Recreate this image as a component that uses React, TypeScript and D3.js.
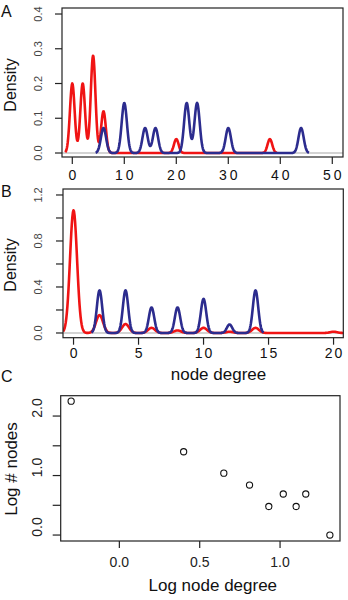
import React from "react";
import * as d3 from "d3";

// ---------- data ----------
// Panel A: node degrees (values at which nodes occur) and counts
const A_RED_DEG = [0, 2, 4, 6, 20, 38];
const A_RED_CNT = [5, 5, 7, 3, 1, 1];
const A_RED_BW = 0.453;
const A_BLUE_DEG = [6, 10, 14, 16, 22, 24, 30, 44];
const A_BLUE_CNT = [1, 2, 1, 1, 2, 2, 1, 1];
const A_BLUE_BW = 0.504;
// Panel B
const B_RED_DEG = [0, 2, 4, 6, 8, 10, 12, 14, 20];
const B_RED_CNT = [96, 14, 7, 4, 2, 4, 1, 4, 1];
const B_RED_BW = 0.27;
const B_BLUE_DEG = [2, 4, 6, 8, 10, 12, 14];
const B_BLUE_CNT = [5, 5, 3, 3, 4, 1, 5];
const B_BLUE_BW = 0.207;
// Panel C
const C_LOG_DEG = [-0.3, 0.4, 0.65, 0.81, 0.93, 1.02, 1.1, 1.16, 1.31];
const C_LOG_N = [2.25, 1.4, 1.04, 0.84, 0.48, 0.69, 0.48, 0.69, 0.0];

// ticks
const A_X_TICKS = [0, 10, 20, 30, 40, 50];
const A_Y_TICKS = [0, 0.1, 0.2, 0.3, 0.4];
const A_Y_LABELS = [0, 0.1, 0.2, 0.3, 0.4];
const B_X_TICKS = [0, 5, 10, 15, 20];
const B_Y_TICKS = [0, 0.2, 0.4, 0.6, 0.8, 1.0, 1.2];
const B_Y_LABELS = [0, 0.4, 0.8, 1.2];
const C_X_TICKS = [0, 0.5, 1.0];
const C_Y_TICKS = [0, 0.5, 1.0, 1.5, 2.0];
const C_Y_LABELS = [0, 1.0, 2.0];

const RED = "#f01414";
const BLUE = "#2c2c8e";
const SANS = "'Liberation Sans', Arial, Helvetica, sans-serif";
const NARROW = "'Liberation Sans Narrow', 'Arial Narrow', 'Liberation Sans', sans-serif";

function kde(deg: number[], cnt: number[], bw: number): [number, number][] {
  const n = d3.sum(cnt);
  const lo = (d3.min(deg) as number) - 3 * bw;
  const hi = (d3.max(deg) as number) + 3 * bw;
  const norm = n * bw * Math.sqrt(2 * Math.PI);
  return d3.range(512).map((i) => {
    const x = lo + ((hi - lo) * i) / 511;
    const y =
      d3.sum(deg, (d, j) => cnt[j] * Math.exp(-0.5 * ((x - d) / bw) ** 2)) / norm;
    return [x, y] as [number, number];
  });
}

type Box = { x0: number; x1: number; y0: number; y1: number };

function DensityPanel(props: {
  id: string;
  box: Box;
  xDomain: [number, number];
  yDomain: [number, number];
  xTicks: number[];
  yTicks: number[];
  yLabels: number[];
  yFmt: (v: number) => string;
  series: { data: [number, number][]; color: string }[];
  letterSpacing: number;
  labelBaseline: number;
}) {
  const { id, box, xDomain, yDomain, xTicks, yTicks, yLabels, yFmt, series } = props;
  const x = d3.scaleLinear().domain(xDomain).range([box.x0, box.x1]);
  const y = d3.scaleLinear().domain(yDomain).range([box.y1, box.y0]);
  const line = d3
    .line<[number, number]>()
    .x((d) => x(d[0]))
    .y((d) => y(d[1]));
  return (
    <g>
      <defs>
        <clipPath id={id}>
          <rect x={box.x0} y={box.y0} width={box.x1 - box.x0} height={box.y1 - box.y0} />
        </clipPath>
      </defs>
      <line x1={box.x0} x2={box.x1} y1={y(0)} y2={y(0)} stroke="#c4c4c4" strokeWidth={1.6} />
      <g clipPath={`url(#${id})`}>
        {series.map((s, i) => (
          <path key={i} d={line(s.data) || ""} fill="none" stroke={s.color} strokeWidth={2.6} strokeLinejoin="round" />
        ))}
      </g>
      <rect x={box.x0} y={box.y0} width={box.x1 - box.x0} height={box.y1 - box.y0} fill="none" stroke="#222" strokeWidth={1.2} />
      {xTicks.map((t) => (
        <g key={"x" + t}>
          <line x1={x(t)} x2={x(t)} y1={box.y1} y2={box.y1 + 7} stroke="#222" strokeWidth={1.2} />
          <text
            x={x(t) + props.letterSpacing / 2}
            y={props.labelBaseline}
            textAnchor="middle"
            fontFamily={SANS}
            fontSize={14}
            letterSpacing={props.letterSpacing}
            fill="#111"
          >
            {String(t)}
          </text>
        </g>
      ))}
      {yTicks.map((t) => (
        <line key={"y" + t} x1={box.x0 - 7} x2={box.x0} y1={y(t)} y2={y(t)} stroke="#222" strokeWidth={1.2} />
      ))}
      {yLabels.map((t) => (
        <text
          key={"yl" + t}
          transform={`translate(42,${y(t)}) rotate(-90)`}
          textAnchor="middle"
          fontFamily={SANS}
          fontSize={11}
          fill="#444"
        >
          {yFmt(t)}
        </text>
      ))}
    </g>
  );
}

export default function App() {
  const aRed = kde(A_RED_DEG, A_RED_CNT, A_RED_BW);
  const aBlue = kde(A_BLUE_DEG, A_BLUE_CNT, A_BLUE_BW);
  const bRed = kde(B_RED_DEG, B_RED_CNT, B_RED_BW);
  const bBlue = kde(B_BLUE_DEG, B_BLUE_CNT, B_BLUE_BW);

  const cBox: Box = { x0: 60.7, x1: 340, y0: 395.7, y1: 541 };
  const cx = d3.scaleLinear().domain([-0.365, 1.373]).range([cBox.x0, cBox.x1]);
  const cy = d3.scaleLinear().domain([-0.1, 2.342]).range([cBox.y1, cBox.y0]);

  return (
    <svg
      width={348}
      height={600}
      style={{ position: "absolute", left: 0, top: 0, background: "#fff" }}
      fontFamily={SANS}
    >
      <rect x={0} y={0} width={348} height={600} fill="#fff" />
      {/* Panel A */}
      <text x={1} y={17} fontSize={16} fill="#111">A</text>
      <DensityPanel
        id="clipA"
        box={{ x0: 62, x1: 343, y0: 8, y1: 157 }}
        xDomain={[-1.98, 52.06]}
        yDomain={[-0.0115, 0.4173]}
        xTicks={A_X_TICKS}
        yTicks={A_Y_TICKS}
        yLabels={A_Y_LABELS}
        yFmt={(v) => v.toFixed(1)}
        series={[
          { data: aRed, color: RED },
          { data: aBlue, color: BLUE },
        ]}
        letterSpacing={3}
        labelBaseline={180}
      />
      <text transform="translate(16,85) rotate(-90)" textAnchor="middle" fontSize={16} fill="#111">
        Density
      </text>

      {/* Panel B */}
      <text x={1} y={197} fontSize={16} fill="#111">B</text>
      <DensityPanel
        id="clipB"
        box={{ x0: 63, x1: 343.3, y0: 189, y1: 337.7 }}
        xDomain={[-0.81, 20.75]}
        yDomain={[-0.041, 1.252]}
        xTicks={B_X_TICKS}
        yTicks={B_Y_TICKS}
        yLabels={B_Y_LABELS}
        yFmt={(v) => v.toFixed(1)}
        series={[
          { data: bRed, color: RED },
          { data: bBlue, color: BLUE },
        ]}
        letterSpacing={2}
        labelBaseline={358}
      />
      <text transform="translate(16,265) rotate(-90)" textAnchor="middle" fontSize={16} fill="#111">
        Density
      </text>
      <text x={218.5} y={380} textAnchor="middle" fontSize={17} fill="#111">
        node degree
      </text>

      {/* Panel C */}
      <text x={1} y={382} fontSize={16} fill="#111">C</text>
      <rect x={cBox.x0} y={cBox.y0} width={cBox.x1 - cBox.x0} height={cBox.y1 - cBox.y0} fill="none" stroke="#222" strokeWidth={1.2} />
      {C_LOG_DEG.map((d, i) => (
        <circle key={i} cx={cx(d)} cy={cy(C_LOG_N[i])} r={3.1} fill="none" stroke="#111" strokeWidth={1.1} />
      ))}
      {C_X_TICKS.map((t) => (
        <g key={"cx" + t}>
          <line x1={cx(t)} x2={cx(t)} y1={cBox.y1} y2={cBox.y1 + 7} stroke="#222" strokeWidth={1.2} />
          <text x={cx(t)} y={567} textAnchor="middle" fontFamily={NARROW} fontSize={14} fill="#222">
            {t.toFixed(1)}
          </text>
        </g>
      ))}
      {C_Y_TICKS.map((t) => (
        <line key={"cy" + t} x1={cBox.x0 - 8} x2={cBox.x0} y1={cy(t)} y2={cy(t)} stroke="#222" strokeWidth={1.2} />
      ))}
      {C_Y_LABELS.map((t) => (
        <text
          key={"cyl" + t}
          transform={`translate(42,${cy(t) - 8}) rotate(-90)`}
          textAnchor="middle"
          fontFamily={NARROW}
          fontSize={14}
          fill="#222"
        >
          {t.toFixed(1)}
        </text>
      ))}
      <text transform="translate(17,469) rotate(-90)" textAnchor="middle" fontSize={17} fill="#111">
        Log # nodes
      </text>
      <text x={212.8} y={591} textAnchor="middle" fontSize={17} fill="#111">
        Log node degree
      </text>
    </svg>
  );
}
